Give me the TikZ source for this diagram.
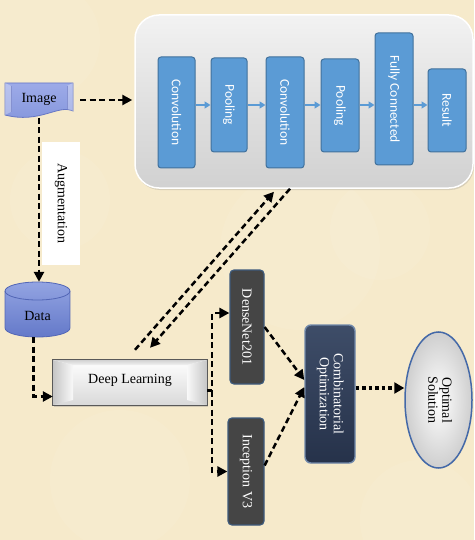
\documentclass[tikz,border=0pt]{standalone}
\usepackage{fontspec}
\setmainfont{Liberation Serif}
\newfontfamily\calfont{Carlito}
\usetikzlibrary{arrows.meta,calc,shadows,shapes.geometric}
\definecolor{bgc}{HTML}{F6EACB}
\definecolor{cnnblue}{HTML}{5B9BD5}
\definecolor{cnnedge}{HTML}{41719C}
\definecolor{imgtop}{HTML}{9DAAE8}
\definecolor{imgbot}{HTML}{8496DC}
\definecolor{imgedge}{HTML}{6676C4}
\definecolor{datatop}{HTML}{93A4E2}
\definecolor{databot}{HTML}{6479C9}
\definecolor{dataedge}{HTML}{5266B6}
\definecolor{darkbox}{HTML}{454545}
\definecolor{darkedge}{HTML}{3E5A7C}
\definecolor{combtop}{HTML}{3E4D68}
\definecolor{combbot}{HTML}{26324A}
\definecolor{combedge}{HTML}{7088AA}
\definecolor{elledge}{HTML}{4469A8}
\tikzset{
  x=1pt, y=-1pt,
  serif/.style={font=\fontsize{14}{16}\selectfont},
  cnnbox/.style={draw=cnnedge, fill=cnnblue, line width=1pt, rounded corners=3pt,
    text=white, font=\calfont\fontsize{13.5}{15}\selectfont, inner sep=0pt},
  cnnarrow/.style={draw=cnnblue, line width=1.4pt, -{Triangle[length=6pt,width=7pt]}},
  dasharrow/.style={draw=black, line width=2.5pt, dash pattern=on 6pt off 3.5pt,
    -{Triangle[length=10pt,width=10pt]}},
  dotarrow/.style={draw=black, line width=4pt, dash pattern=on 3.5pt off 3pt,
    -{Triangle[length=10pt,width=11pt]}},
  darkbox/.style={draw=darkedge, fill=darkbox, line width=1.2pt, rounded corners=4pt,
    text=white, serif, inner sep=0pt},
}
\begin{document}
\begin{tikzpicture}
\useasboundingbox (0,0) rectangle (474,540);
\fill[bgc] (0,0) rectangle (474,540);
% soft texture
\foreach \cx/\cy/\r in {40/40/60, 300/250/80, 120/480/70, 420/520/60, 380/230/50, 60/200/50}
  \fill[white, opacity=0.07] (\cx,\cy) circle[radius=\r pt];

% ---------- CNN panel ----------
\node[draw=white, line width=1.5pt, rounded corners=24pt, minimum width=338pt, minimum height=173pt,
  top color=gray!10, bottom color=gray!36, middle color=gray!24, inner sep=0pt,
  drop shadow={shadow xshift=1pt, shadow yshift=-2pt, opacity=0.25}]
  (cnn) at (304,101.5) {};
\node[cnnbox, minimum width=37pt, minimum height=111pt] (conv1) at (176.5,112.5) {\rotatebox{-90}{Convolution}};
\node[cnnbox, minimum width=36pt, minimum height=94pt] (pool1) at (229,105) {\rotatebox{-90}{Pooling}};
\node[cnnbox, minimum width=38pt, minimum height=111pt] (conv2) at (285,112.5) {\rotatebox{-90}{Convolution}};
\node[cnnbox, minimum width=38pt, minimum height=93pt] (pool2) at (340,105.5) {\rotatebox{-90}{Pooling}};
\node[cnnbox, minimum width=38pt, minimum height=132pt] (fc) at (394,99) {\rotatebox{-90}{Fully Connected}};
\node[cnnbox, minimum width=38pt, minimum height=83pt] (res) at (447,110.5) {\rotatebox{-90}{Result}};
\coordinate (ay) at (0,105);
\draw[cnnarrow] (conv1.east|-ay) -- (pool1.west|-ay);
\draw[cnnarrow] (pool1.east|-ay) -- (conv2.west|-ay);
\draw[cnnarrow] (conv2.east|-ay) -- (pool2.west|-ay);
\draw[cnnarrow] (pool2.east|-ay) -- (fc.west|-ay);
\draw[cnnarrow] (fc.east|-ay) -- (res.west|-ay);

% ---------- Image ----------
\node[minimum width=68pt, minimum height=35pt, inner sep=0pt] (img) at (39,100) {};
\path[top color=imgtop, bottom color=imgbot, draw=imgedge, line width=0.8pt]
  (5,83) -- (73,83) -- (73,111) .. controls (58,104) and (40,124) .. (5,115) -- cycle;
\fill[white, opacity=0.3] (5,83) -- (11,86) -- (11,112) -- (5,115) -- cycle;
\fill[white, opacity=0.3] (73,83) -- (67,86) -- (67,109) -- (73,111) -- cycle;
\draw[imgedge!80, line width=0.4pt] (11,86) -- (11,112) (67,86) -- (67,109);
\node[serif] at (39,99) {Image};

% ---------- Data ----------
\node[minimum width=65pt, minimum height=55pt, inner sep=0pt] (data) at (37.5,309.5) {};
\path[top color=datatop, bottom color=databot, draw=dataedge, line width=0.8pt]
  (5,291) -- (5,328) arc[start angle=180, end angle=360, x radius=32.5pt, y radius=9pt]
  -- (70,291) arc[start angle=0, end angle=180, x radius=32.5pt, y radius=9pt] -- cycle;
\draw[dataedge, line width=0.8pt] (5,291) arc[start angle=180, end angle=360, x radius=32.5pt, y radius=9pt];
\node[serif] at (37.5,316) {Data};

% ---------- Augmentation label ----------
\node[fill=white, minimum width=38pt, minimum height=123pt, inner sep=0pt, serif] (aug) at (61,203.5)
  {\rotatebox{-90}{Augmentation}};

% ---------- Deep Learning ----------
\node[minimum width=154pt, minimum height=45pt, inner sep=0pt] (dl) at (130,382.5) {};
\path[top color=white, bottom color=gray!30, draw=gray!70!black, line width=0.8pt,
  drop shadow={shadow xshift=1pt, shadow yshift=-1.5pt, opacity=0.3}]
  (dl.north west) rectangle (dl.south east);
\path[left color=gray!45, right color=gray!5] (53,360) -- (73,365) -- (73,400) -- (53,405) -- cycle;
\path[left color=gray!5, right color=gray!45] (207,360) -- (187,365) -- (187,400) -- (207,405) -- cycle;
\path[top color=gray!35, bottom color=gray!10] (53,360) -- (207,360) -- (187,365) -- (73,365) -- cycle;
\draw[gray!70!black, line width=0.8pt] (dl.north west) rectangle (dl.south east);
\node[serif] at (130,380) {Deep Learning};

% ---------- DenseNet / Inception ----------
\node[darkbox, minimum width=34pt, minimum height=114pt] (dense) at (247,327) {\rotatebox{-90}{DenseNet201}};
\node[darkbox, minimum width=36pt, minimum height=107pt] (incep) at (246,471.5) {\rotatebox{-90}{Inception V3}};

% ---------- Combinatorial Optimization ----------
\node[draw=combedge, top color=combtop, bottom color=combbot, line width=1.4pt, rounded corners=6pt,
  minimum width=50pt, minimum height=138pt, inner sep=0pt, text=white, serif] (comb) at (330,394)
  {\rotatebox{-90}{\begin{tabular}{@{}c@{}}Combinatorial\\[-2pt]Optimization\end{tabular}}};

% ---------- Optimal Solution ----------
\node[ellipse, draw=elledge, line width=1.5pt, minimum width=67pt, minimum height=136pt, inner sep=0pt,
  inner color=white, outer color=gray!38, serif] (opt) at (438.5,400)
  {\rotatebox{-90}{\begin{tabular}{@{}c@{}}Optimal\\[-2pt]Solution\end{tabular}}};

% ---------- connectors ----------
\draw[dasharrow, shorten <=7pt, shorten >=2pt] (img.east) -- (img.east -| cnn.west);
\draw[dasharrow] (img.south) -- (img.south |- data.north);
\draw[dasharrow] ([xshift=-4pt]data.south) |- ([yshift=-14pt]dl.west);
\draw[dasharrow] ([xshift=5pt,yshift=10pt]dl.north) -- ([xshift=-30pt,yshift=-3pt]cnn.south);
\draw[dasharrow] ([xshift=-14pt]cnn.south) -- ([xshift=20pt,yshift=12pt]dl.north);
\coordinate (jn) at ($([yshift=-8pt]dl.east)+(5pt,0)$);
\draw[dasharrow] ([yshift=-8pt]dl.east) -- (jn) |- ([yshift=14pt]dense.west);
\draw[dasharrow] (jn) |- (incep.west);
\draw[dasharrow] (dense.east) -- ([yshift=14pt]comb.west);
\draw[dasharrow] ([yshift=6pt]incep.east) -- ([yshift=7pt]comb.west);
\coordinate (ds) at ([yshift=6pt]comb.east);
\draw[dotarrow] (ds) -- (ds -| opt.west);
\end{tikzpicture}
\end{document}
